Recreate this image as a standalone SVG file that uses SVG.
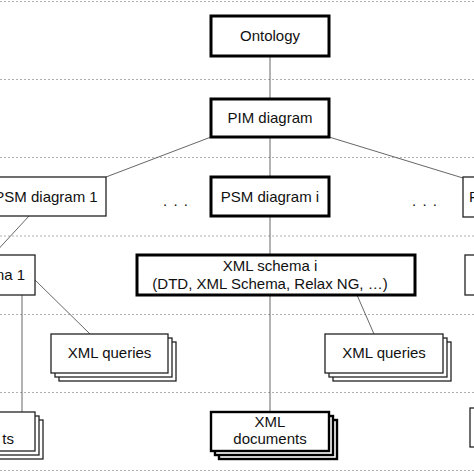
<svg xmlns="http://www.w3.org/2000/svg" width="474" height="474" viewBox="0 0 474 474">
<style>
.sep{stroke:#b0b0b0;stroke-width:1.2;stroke-dasharray:2 2;fill:none}
.con{stroke:#555;stroke-width:0.9;fill:none}
.thin{fill:#fff;stroke:#222;stroke-width:1.3}
.thick{fill:#fff;stroke:#000;stroke-width:3}
.doc{fill:#fff;stroke:#000;stroke-width:2.4}
text{font-family:"Liberation Sans",Arial,sans-serif;font-size:15px;fill:#111;text-anchor:middle}
</style>
<rect width="474" height="474" fill="#fff"/>
<g id="separators">
<line class="sep" x1="0" y1="1.5" x2="474" y2="1.5"/>
<line class="sep" x1="0" y1="79.5" x2="474" y2="79.5"/>
<line class="sep" x1="0" y1="157.5" x2="474" y2="157.5"/>
<line class="sep" x1="0" y1="236" x2="474" y2="236"/>
<line class="sep" x1="0" y1="314.5" x2="474" y2="314.5"/>
<line class="sep" x1="0" y1="392.5" x2="474" y2="392.5"/>
<line class="sep" x1="0" y1="470.5" x2="474" y2="470.5"/>
</g>
<g id="connectors">
<line class="con" x1="270" y1="56" x2="270" y2="99"/>
<line class="con" x1="211" y1="137" x2="106" y2="177"/>
<line class="con" x1="329" y1="137" x2="463" y2="178"/>
<line class="con" x1="270" y1="137" x2="270" y2="177"/>
<line class="con" x1="29" y1="216" x2="-7" y2="255"/>
<line class="con" x1="270" y1="216" x2="270" y2="255"/>
<line class="con" x1="35" y1="280" x2="90" y2="334"/>
<line class="con" x1="22" y1="295" x2="22" y2="412"/>
<line class="con" x1="357" y1="295" x2="374" y2="334"/>
<line class="con" x1="270" y1="295" x2="270" y2="412"/>
</g>
<g id="ontology">
<rect class="thick" x="211" y="16" width="118" height="40"/>
<text x="270" y="41">Ontology</text>
</g>
<g id="pim">
<rect class="thick" x="211" y="99" width="118" height="38"/>
<text x="270" y="123">PIM diagram</text>
</g>
<g id="psm1">
<rect class="thin" x="-12" y="177" width="118" height="39"/>
<text x="46" y="202">PSM diagram 1</text>
</g>
<g id="dots-left"><text x="176" y="206" style="letter-spacing:1px">. . .</text></g>
<g id="psmi">
<rect class="thick" x="211" y="177" width="118" height="39"/>
<text x="270" y="202">PSM diagram i</text>
</g>
<g id="dots-right"><text x="425" y="206" style="letter-spacing:1px">. . .</text></g>
<g id="psmn">
<rect class="thin" x="463" y="177" width="118" height="40"/>
<text x="469" y="202" style="text-anchor:start">P</text>
</g>
<g id="schema1">
<rect class="thin" x="-85" y="255" width="120" height="40"/>
<text x="25" y="280" style="text-anchor:end">ma 1</text>
</g>
<g id="schemai">
<rect class="thick" x="137" y="255" width="278" height="40"/>
<text x="270" y="271">XML schema i</text>
<text x="270" y="289">(DTD, XML Schema, Relax NG, …)</text>
</g>
<g id="scheman">
<rect class="thin" x="465" y="255" width="100" height="40"/>
</g>
<g id="queries1">
<rect class="thin" x="59" y="342" width="117" height="39"/>
<rect class="thin" x="55" y="338" width="117" height="39"/>
<rect class="thin" x="51" y="334" width="117" height="39"/>
<text x="109.5" y="358">XML queries</text>
</g>
<g id="queriesi">
<rect class="thin" x="333" y="342" width="118" height="39"/>
<rect class="thin" x="329" y="338" width="118" height="39"/>
<rect class="thin" x="325" y="334" width="118" height="39"/>
<text x="384" y="358">XML queries</text>
</g>
<g id="docs1">
<rect class="thin" x="-75" y="420" width="118" height="39"/>
<rect class="thin" x="-79" y="416" width="118" height="39"/>
<rect class="thin" x="-83" y="412" width="118" height="39"/>
<text x="14" y="444" style="text-anchor:end">ts</text>
</g>
<g id="docsi">
<rect class="doc" x="219" y="420" width="118" height="39"/>
<rect class="doc" x="215" y="416" width="118" height="39"/>
<rect class="doc" x="211" y="412" width="118" height="39"/>
<text x="270" y="427">XML</text>
<text x="270" y="444">documents</text>
</g>
<g id="docsn">
<rect class="thin" x="470" y="408" width="118" height="39"/>
</g>
</svg>
